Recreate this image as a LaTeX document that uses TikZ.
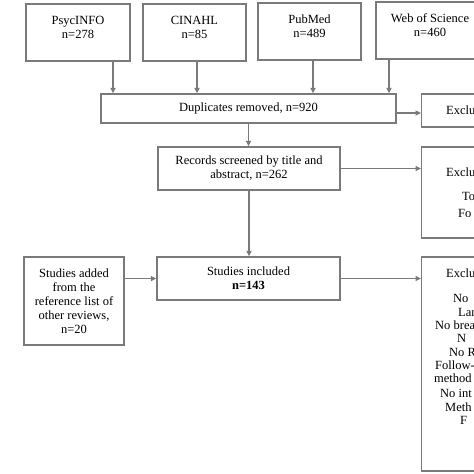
\documentclass[tikz,border=0pt]{standalone}
\usepackage{fontspec}
\setmainfont{Liberation Serif}
\usepackage{tikz}
\usetikzlibrary{arrows.meta, positioning, calc}

\definecolor{boxgray}{HTML}{7A7A7A}

\tikzset{
box/.style = {draw = boxgray, line width = 1.3pt, align = center, inner sep = 2pt,
  font = \fontsize{12.5}{14}\selectfont},
src/.style = {box, minimum width = 103pt, minimum height = 57pt, text depth = 11pt},
frag/.style = {anchor = west, inner sep = 0pt, font = \fontsize{12.5}{14}\selectfont},
arr/.style = {draw = boxgray, line width = 1.3pt, -{Triangle[length = 5.5pt, width = 5pt]}}
}

\begin{document}
\begin{tikzpicture}[x = 1pt, y = -1pt]
\useasboundingbox (0, 0) rectangle (474, 474);
\clip (0, 0) rectangle (474, 474);

% databases
\node[src, minimum width = 104pt] at (78, 32.5) (psyc) {PsycINFO\\n=278};
\node[src] at (194.5, 32.5) (cinahl) {CINAHL\\n=85};
\node[src] at (309.5, 31.5) (pubmed) {PubMed\\n=489};
\node[src, minimum width = 108pt] at (430, 30.5) (wos) {Web of Science\\n=460};

% main column
\node[box, minimum width = 295pt, minimum height = 29pt] at (248.5, 108.5) (dup) {Duplicates removed, n=920};
\node[box, minimum width = 182pt, minimum height = 43pt] at (249, 168.5) (rec) {Records screened by title and\\abstract, n=262};
\node[box, minimum width = 183pt, minimum height = 43pt] at (248.5, 278.5) (inc) {Studies included\\\textbf{n=143}};
\node[box, minimum width = 100pt, minimum height = 88pt] at (74, 301) (add) {Studies added\\from the\\reference list of\\other reviews,\\n=20};

% exclusion boxes (cut by the right edge)
\node[box, minimum width = 120pt, minimum height = 33pt, anchor = west] at (421, 110.5) (ex1) {};
\node[box, minimum width = 120pt, minimum height = 91pt, anchor = west] at (421, 192.5) (ex2) {};
\node[box, minimum width = 120pt, minimum height = 214pt, anchor = west] at (421, 364) (ex3) {};

\node[frag] at (446, 110) (ex1a) {Exclu};
\foreach \t/\x/\y [count = \i] in {Exclu/446/172, To/462/196, Fo/458/213}
  {\node[frag] at (\x, \y) (ex2-\i) {\t};}
\foreach \t/\x/\y [count = \i] in {Exclu/446/273, No/453/298, Lan/458/312, No brea/435/325,
  N/457/338, No R/449/352, Follow-/435/365, method/434/378, No int/440/393, Meth/445/407, F/460/420}
  {\node[frag] at (\x, \y) (ex3-\i) {\t};}

% arrows
\draw[arr] ([xshift = 35pt]psyc.south) -- ([xshift = 35pt]psyc.south |- dup.north);
\draw[arr] ([xshift = 2.5pt]cinahl.south) -- ([xshift = 2.5pt]cinahl.south |- dup.north);
\draw[arr] ([xshift = 3.5pt]pubmed.south) -- ([xshift = 3.5pt]pubmed.south |- dup.north);
\draw[arr] ([xshift = -41pt]wos.south) -- ([xshift = -41pt]wos.south |- dup.north);
\draw[arr] ([yshift = -4.5pt]dup.east) -- ([yshift = -4.5pt]dup.east -| ex1.west);
\draw[arr] (dup.south) -- (dup.south |- rec.north);
\draw[arr] (rec.east) -- (rec.east -| ex2.west);
\draw[arr] (rec.south) -- (rec.south |- inc.north);
\draw[arr] (inc.west -| add.east) -- (inc.west);
\draw[arr] (inc.east) -- (inc.east -| ex3.west);
\end{tikzpicture}
\end{document}
